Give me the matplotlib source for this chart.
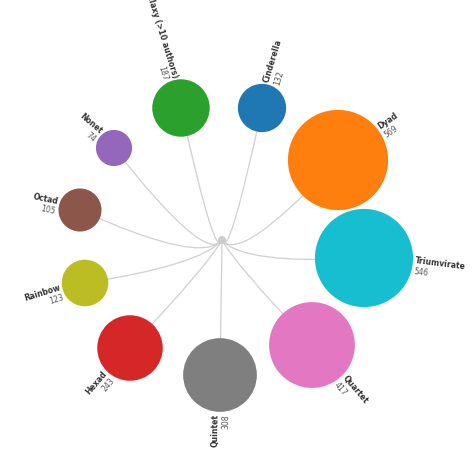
import numpy as np
import matplotlib
matplotlib.use("Agg")
import matplotlib.pyplot as plt
from matplotlib.path import Path
from matplotlib.patches import PathPatch, Circle

names = ["Cinderella", "Dyad", "Triumvirate", "Quartet", "Quintet",
         "Hexad", "Rainbow", "Octad", "Nonet", "Galaxy (>10 authors)"]
values = [132, 569, 546, 417, 308, 243, 123, 105, 74, 187]
colors = ["#1f77b4", "#ff7f0e", "#17becf", "#e377c2", "#7f7f7f",
          "#d62728", "#bcbd22", "#8c564b", "#9467bd", "#2ca02c"]
# node centres in pixel layout
pos = [(262, 108), (338, 160), (364, 258), (312, 345), (220, 375),
       (130, 348), (85, 283), (80, 210), (114, 148), (181, 108)]
cx, cy = 222, 240

fig = plt.figure(figsize=(4.74, 4.54), dpi=100)
ax = fig.add_axes([0, 0, 1, 1])
ax.set_xlim(0, 474)
ax.set_ylim(454, 0)
ax.set_aspect("equal")
ax.axis("off")

for name, v, c, (x, y) in zip(names, values, colors, pos):
    r = 2.1 * np.sqrt(v)
    # slightly curved link from hub
    ctrl = (cx + (x - cx) * 0.15, cy + 25)
    path = Path([(cx, cy), ctrl, (x, y)], [Path.MOVETO, Path.CURVE3, Path.CURVE3])
    ax.add_patch(PathPatch(path, fc="none", ec="#d0d0d0", lw=0.9, zorder=1))
    ax.add_patch(Circle((x, y), r, fc=c, ec="none", zorder=2))

    th = np.arctan2(-(y - cy), x - cx)
    d = r + 2
    tx, ty = x + d * np.cos(th), y - d * np.sin(th)
    rot = np.degrees(th)
    ha = "left"
    if np.cos(th) < -0.01:
        rot += 180
        ha = "right"
    rr = np.radians(rot)
    ox, oy = 3.5 * np.sin(rr), 3.5 * np.cos(rr)
    ax.text(tx - ox, ty - oy, name, rotation=rot, rotation_mode="anchor",
            ha=ha, va="center", fontsize=5.6, fontweight="bold", color="#333333")
    ax.text(tx + 2 * ox, ty + 2 * oy, str(v), rotation=rot, rotation_mode="anchor",
            ha=ha, va="center", fontsize=5.6, color="#555555")

ax.add_patch(Circle((cx, cy), 4, fc="#cccccc", ec="none", zorder=3))
fig.savefig("out.png", dpi=100, facecolor="white")
